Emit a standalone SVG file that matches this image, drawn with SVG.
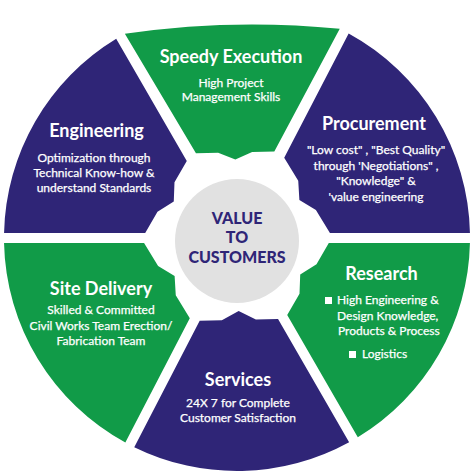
<svg xmlns="http://www.w3.org/2000/svg" width="474" height="474" viewBox="0 0 474 474">
<style>
.pur{fill:#2f2577}
.grn{fill:#119b48}
.t{font-family:Lato,"Liberation Sans",sans-serif;fill:#ffffff;text-anchor:middle}
.h{font-size:18px;font-weight:700}
.b{font-size:12px;stroke:#ffffff;stroke-width:0.25}
.c{font-family:Lato,"Liberation Sans",sans-serif;fill:#2f2577;font-size:16px;font-weight:900;text-anchor:middle}
.l{text-anchor:start}
</style>
<rect width="474" height="474" fill="#ffffff"/>
<g id="speedy-execution">
<path class="grn" d="M124.87,33.75 Q232,18 339.75,28.87 L274.32,151.5 L252.14,152 L235.34,159.5 L218.14,152.8 L195.96,153.3 Z"/>
<text class="t h" x="231" y="63">Speedy Execution</text>
<text class="t b" x="231" y="87">High Project</text>
<text class="t b" x="231" y="101">Management Skills</text>
</g>
<g id="procurement">
<path class="pur" d="M348.66,33.48 A233,233 0 0 1 469.96,233 L329.93,233 L315.9,209.93 L299.38,200.08 L298.24,180.87 L284.21,157.8 Z"/>
<text class="t h" x="374" y="130">Procurement</text>
<text class="t b" x="376" y="154">"Low cost" , "Best Quality"</text>
<text class="t b" x="376" y="169.5">through 'Negotiations" ,</text>
<text class="t b" x="376" y="185">"Knowledge" &amp;</text>
<text class="t b" x="376" y="200.5">'value engineering</text>
</g>
<g id="research">
<path class="grn" d="M469.94,243.01 A233,233 0 0 1 357.8,437.23 L287.22,315 L299.51,293.72 L300.22,274.5 L316.51,264.28 L328.8,243 Z"/>
<text class="t h" x="381.5" y="280">Research</text>
<rect x="325" y="297" width="7" height="7" fill="#ffffff"/>
<text class="t b l" x="337" y="304">High Engineering &amp;</text>
<text class="t b l" x="337" y="320">Design Knowledge,</text>
<text class="t b l" x="338" y="335">Products &amp; Process</text>
<rect x="349" y="351" width="7" height="7" fill="#ffffff"/>
<text class="t b l" x="362" y="358">Logistics</text>
</g>
<g id="services">
<path class="pur" d="M349.13,442.25 A233,233 0 0 1 134.25,447.13 L199.68,320.87 L221.86,320.37 L238.66,310.98 L255.86,319.59 L278.04,319.09 Z"/>
<text class="t h" x="238" y="386">Services</text>
<text class="t b" x="238" y="407">24X 7 for Complete</text>
<text class="t b" x="238" y="422">Customer Satisfaction</text>
</g>
<g id="site-delivery">
<path class="grn" d="M125.34,442.52 A233,233 0 0 1 4.04,243 L144.07,243 L158.1,266.07 L174.62,275.92 L175.76,295.13 L189.79,318.2 Z"/>
<text class="t h" x="101" y="295">Site Delivery</text>
<text class="t b" x="101" y="314">Skilled &amp; Committed</text>
<text class="t b" x="101" y="330">Civil Works Team Erection/</text>
<text class="t b" x="101" y="345">Fabrication Team</text>
</g>
<g id="engineering">
<path class="pur" d="M4.06,232.99 A233,233 0 0 1 116.2,38.77 L186.78,161 L174.49,182.28 L173.78,201.5 L157.49,211.72 L145.2,233 Z"/>
<text class="t h" x="96.5" y="137">Engineering</text>
<text class="t b" x="94" y="162">Optimization through</text>
<text class="t b" x="94" y="177">Technical Know-how &amp;</text>
<text class="t b" x="94" y="192">understand Standards</text>
</g>
<g id="value-to-customers">
<circle cx="237" cy="241" r="62" fill="#e1e1e1"/>
<text class="c" x="237" y="223.5">VALUE</text>
<text class="c" x="237" y="243">TO</text>
<text class="c" x="237" y="262.5">CUSTOMERS</text>
</g>
</svg>
